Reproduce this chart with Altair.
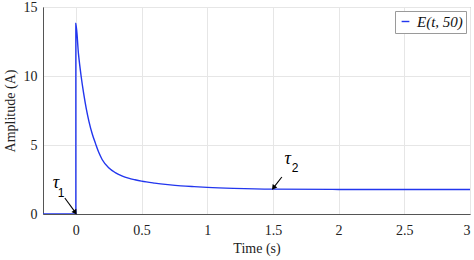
import altair as alt
import pandas as pd

# Series values
t_vals = [-0.25, 0.0, 0.0, 0.02, 0.04, 0.06, 0.08, 0.10, 0.125, 0.15, 0.175, 0.20,
          0.25, 0.30, 0.35, 0.40, 0.45, 0.50, 0.60, 0.70, 0.80, 0.90, 1.00, 1.20,
          1.50, 2.00, 2.50, 3.00]
e_vals = [0.0, 0.0, 13.8, 11.6, 10.0, 8.7, 7.6, 6.7, 5.8, 5.1, 4.45, 3.95,
          3.35, 3.0, 2.77, 2.6, 2.48, 2.38, 2.24, 2.13, 2.04, 1.98, 1.93, 1.86,
          1.8, 1.78, 1.77, 1.77]
series_name = ["E(t, 50)"] * len(t_vals)

# Annotations (data coordinates)
ann_sym = ["τ", "τ"]
ann_sym_x = [-0.152, 1.613]
ann_sym_y = [2.25, 3.95]
ann_sub = ["1", "2"]
ann_sub_x = [-0.112, 1.668]
ann_sub_y = [1.55, 3.3]
arrow_x = [-0.084, 1.568]
arrow_y = [1.16, 2.68]
arrow_x2 = [-0.008, 1.508]
arrow_y2 = [0.17, 1.95]
arrow_angle = [146, 217]

x_ticks = [0, 0.5, 1, 1.5, 2, 2.5, 3]
y_ticks = [0, 5, 10, 15]

df = pd.DataFrame({"t": t_vals, "E": e_vals, "s": series_name})
ann = pd.DataFrame({"sym": ann_sym, "sx": ann_sym_x, "sy": ann_sym_y,
                    "sub": ann_sub, "bx": ann_sub_x, "by": ann_sub_y,
                    "ax": arrow_x, "ay": arrow_y, "ax2": arrow_x2, "ay2": arrow_y2,
                    "ang": arrow_angle})

BLUE = "#2236ee"
SERIF = "Liberation Serif"

xscale = alt.Scale(domain=[-0.25, 3], nice=False, zero=False)
yscale = alt.Scale(domain=[0, 15], nice=False)

line = alt.Chart(df).mark_line(color=BLUE, strokeWidth=1.4, clip=True,
                               interpolate="monotone").encode(
    x=alt.X("t:Q", scale=xscale,
            axis=alt.Axis(title="Time (s)", values=x_ticks, format="~g")),
    y=alt.Y("E:Q", scale=yscale,
            axis=alt.Axis(title="Amplitude (A)", values=y_ticks)),
    color=alt.Color("s:N", scale=alt.Scale(range=[BLUE]),
                    legend=alt.Legend(title=None, orient="top-right", offset=4,
                                      symbolType="stroke", symbolSize=60,
                                      symbolStrokeWidth=1.4,
                                      labelFont=SERIF, labelFontSize=15,
                                      labelFontStyle="italic", labelColor="#111",
                                      strokeColor="#9a9a9a", fillColor="white",
                                      padding=3, cornerRadius=0)),
    order=alt.Order("idx:Q"),
).transform_window(idx="row_number()")

base_ann = alt.Chart(ann)

rules = base_ann.mark_rule(color="black", strokeWidth=1.1).encode(
    x="ax:Q", y="ay:Q", x2="ax2:Q", y2="ay2:Q")

heads = base_ann.mark_point(shape="triangle", filled=True, color="black",
                            size=34, opacity=1).encode(
    x="ax2:Q", y="ay2:Q", angle=alt.Angle("ang:Q", scale=None))

sym = base_ann.mark_text(font=SERIF, fontSize=18, fontStyle="italic",
                         color="black").encode(x="sx:Q", y="sy:Q", text="sym:N")
sub = base_ann.mark_text(font="Liberation Sans", fontSize=12,
                         color="black").encode(x="bx:Q", y="by:Q", text="sub:N")

chart = alt.layer(line, rules, heads, sym, sub).properties(
    width=427, height=207,
    autosize=alt.AutoSizeParams(type="none"),
    padding={"left": 43, "top": 7, "right": 4, "bottom": 46},
).configure_view(stroke="#8a8a8a", strokeWidth=1).configure_axis(
    labelFont=SERIF, labelFontSize=14, labelColor="#222",
    titleFont=SERIF, titleFontSize=14, titleColor="#222", titleFontWeight="normal",
    gridColor="#e6e6e6", gridWidth=1,
    domainColor="#555", domainWidth=1,
    tickColor="#555", tickSize=0,
).configure_axisX(labelPadding=9, titlePadding=4).configure_axisY(
    labelPadding=6, titlePadding=6)

chart.save("out.html", embed_options={"renderer": "svg", "actions": False})
